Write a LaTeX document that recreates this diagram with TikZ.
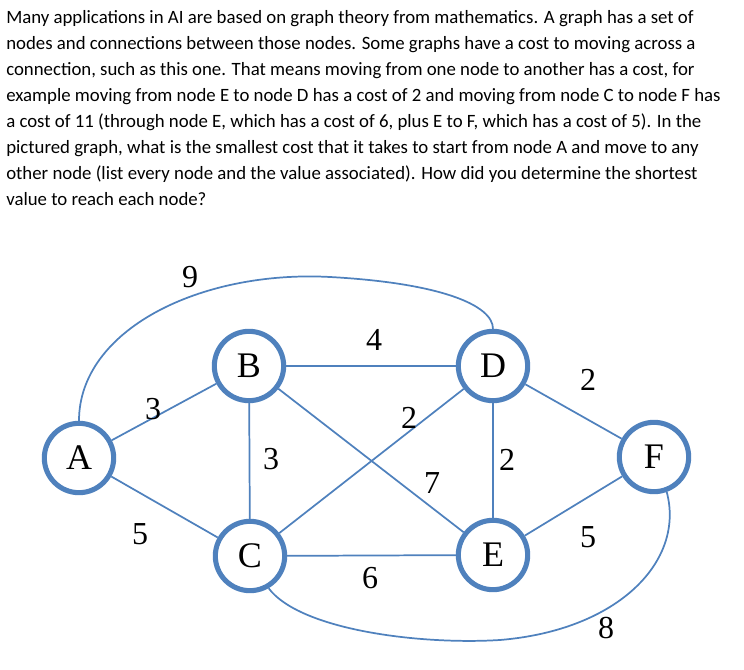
\documentclass[tikz,border=0pt]{standalone}
\usepackage{fontspec}
\setmainfont{Carlito}
\newfontfamily\lbl{Liberation Serif}
\definecolor{eb}{RGB}{79,129,189}
\begin{document}
\begin{tikzpicture}[x=0.75pt,y=-0.75pt,
 vtx/.style={circle,draw=eb,line width=3.8pt,minimum size=52pt,inner sep=0pt,font=\lbl\fontsize{27}{27}\selectfont},
 edg/.style={draw=eb,line width=1.3pt},
 wt/.style={font=\lbl\fontsize{24}{24}\selectfont,inner sep=0pt},
 txt/.style={anchor=base west,inner sep=0pt,font=\fontsize{14.1}{16}\selectfont}]
\useasboundingbox (0,0) rectangle (744,670);
\foreach \t [count=\i] in {
{Many applications in AI are based on graph theory from mathematics. A graph has a set of},
{nodes and connections between those nodes. Some graphs have a cost to moving across a},
{connection, such as this one. That means moving from one node to another has a cost, for},
{example moving from node E to node D has a cost of 2 and moving from node C to node F has},
{a cost of 11 (through node E, which has a cost of 6, plus E to F, which has a cost of 5). In the},
{pictured graph, what is the smallest cost that it takes to start from node A and move to any},
{other node (list every node and the value associated). How did you determine the shortest},
{value to reach each node?}}
 \node[txt] (t\i) at (6,{24+26*(\i-1)}) {\t};
\node[vtx] (A) at (79,458) {A};
\node[vtx] (B) at (249,366) {B};
\node[vtx] (C) at (250,556) {C};
\node[vtx] (D) at (493,366) {D};
\node[vtx] (E) at (493,555) {E};
\node[vtx] (F) at (654,457) {F};
\path[edg] (A)--(B) (A)--(C) (B)--(D) (B)--(C) (B)--(E) (C)--(D) (C)--(E) (D)--(E) (D)--(F) (E)--(F);
\path[edg] (A.north) .. controls (79,330) and (200,270) .. (330,277) .. controls (440,283) and (493,305) .. (D.north);
\path[edg] (C.-60) .. controls (300,630) and (420,645) .. (500,640) .. controls (620,630) and (685,560) .. (F.-70);
\node[wt] (w1) at (190,277) {9};
\node[wt] (w2) at (374,340) {4};
\node[wt] (w3) at (153,409) {3};
\node[wt] (w4) at (271,459) {3};
\node[wt] (w5) at (140,534) {5};
\node[wt] (w6) at (370,578) {6};
\node[wt] (w7) at (409,418) {2};
\node[wt] (w8) at (588,380) {2};
\node[wt] (w9) at (507,460) {2};
\node[wt] (w10) at (432,483) {7};
\node[wt] (w11) at (588,537) {5};
\node[wt] (w12) at (606,628) {8};
\end{tikzpicture}
\end{document}
